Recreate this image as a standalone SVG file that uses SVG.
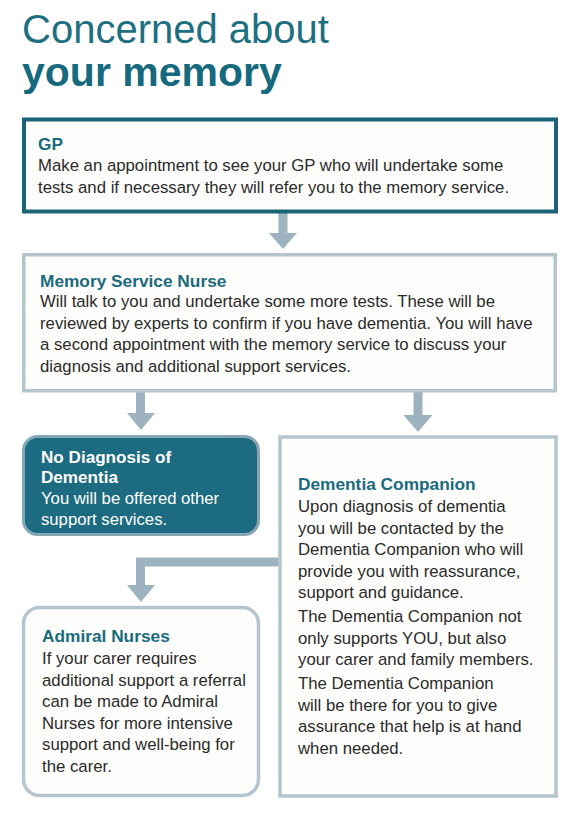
<svg xmlns="http://www.w3.org/2000/svg" width="580" height="813" viewBox="0 0 580 813">
<style>
.t1{font-family:"Liberation Sans",Arial,sans-serif;font-size:40px;fill:#1e6f80}
.t2{font-family:"Liberation Sans",Arial,sans-serif;font-size:41px;font-weight:bold;fill:#176a7d}
.h{font-family:"Liberation Sans",Arial,sans-serif;font-size:17.3px;font-weight:bold;fill:#1a6b7e}
.b{font-family:"Liberation Sans",Arial,sans-serif;font-size:16.75px;fill:#2b2b2b}
.hw{font-family:"Liberation Sans",Arial,sans-serif;font-size:17.1px;font-weight:bold;fill:#ffffff}
.bw{font-family:"Liberation Sans",Arial,sans-serif;font-size:16.7px;fill:#ffffff}
.box{fill:#fdfdfb;stroke:#b5c5ce;stroke-width:3.5}
.conn{fill:#9db3c0}
</style>
<rect width="580" height="813" fill="#ffffff"/>
<g id="title">
<text class="t1" x="22" y="43">Concerned about</text>
<text class="t2" x="22" y="86">your memory</text>
</g>
<g id="connectors">
<polygon class="conn" points="278.5,213 287.5,213 287.5,233 297,233 283,249 269,233 278.5,233"/>
<polygon class="conn" points="136,392 145,392 145,413 155,413 141,430 127,413 136,413"/>
<polygon class="conn" points="413.5,392 422.5,392 422.5,415 432.5,415 418,432 403.5,415 413.5,415"/>
<polygon class="conn" points="280,557.5 280,566.5 145,566.5 145,585 155,585 141,602 127,585 136,585 136,557.5"/>
</g>
<g id="gp">
<rect x="24" y="119.5" width="532" height="92" fill="#fdfdfb" stroke="#1b6477" stroke-width="4"/>
<text class="h" x="38" y="150">GP</text>
<text class="b" x="38" y="171">Make an appointment to see your GP who will undertake some</text>
<text class="b" x="38" y="193">tests and if necessary they will refer you to the memory service.</text>
</g>
<g id="memory-service-nurse">
<rect class="box" x="23.75" y="254.75" width="531.5" height="136"/>
<text class="h" x="40" y="287">Memory Service Nurse</text>
<text class="b" x="40" y="307">Will talk to you and undertake some more tests. These will be</text>
<text class="b" x="40" y="328.5">reviewed by experts to confirm if you have dementia. You will have</text>
<text class="b" x="40" y="350">a second appointment with the memory service to discuss your</text>
<text class="b" x="40" y="371.5">diagnosis and additional support services.</text>
</g>
<g id="no-diagnosis">
<rect x="23.5" y="436.5" width="235" height="98" rx="14" fill="#1d6b80" stroke="#86a8b6" stroke-width="3"/>
<text class="hw" x="41" y="463">No Diagnosis of</text>
<text class="hw" x="41" y="483">Dementia</text>
<text class="bw" x="41" y="503.5">You will be offered other</text>
<text class="bw" x="41" y="525">support services.</text>
</g>
<g id="dementia-companion">
<rect class="box" x="280" y="437" width="276" height="359"/>
<text class="h" x="298" y="490">Dementia Companion</text>
<text class="b" x="298" y="512">Upon diagnosis of dementia</text>
<text class="b" x="298" y="533.5">you will be contacted by the</text>
<text class="b" x="298" y="555">Dementia Companion who will</text>
<text class="b" x="298" y="576.5">provide you with reassurance,</text>
<text class="b" x="298" y="598">support and guidance.</text>
<text class="b" x="298" y="622">The Dementia Companion not</text>
<text class="b" x="298" y="643.5">only supports YOU, but also</text>
<text class="b" x="298" y="665">your carer and family members.</text>
<text class="b" x="298" y="689">The Dementia Companion</text>
<text class="b" x="298" y="710.5">will be there for you to give</text>
<text class="b" x="298" y="732">assurance that help is at hand</text>
<text class="b" x="298" y="753.5">when needed.</text>
</g>
<g id="admiral-nurses">
<rect class="box" x="23.5" y="607.5" width="235" height="188" rx="16"/>
<text class="h" x="42" y="642">Admiral Nurses</text>
<text class="b" x="42" y="664">If your carer requires</text>
<text class="b" x="42" y="685.5">additional support a referral</text>
<text class="b" x="42" y="707">can be made to Admiral</text>
<text class="b" x="42" y="728.5">Nurses for more intensive</text>
<text class="b" x="42" y="750">support and well-being for</text>
<text class="b" x="42" y="771.5">the carer.</text>
</g>
</svg>
